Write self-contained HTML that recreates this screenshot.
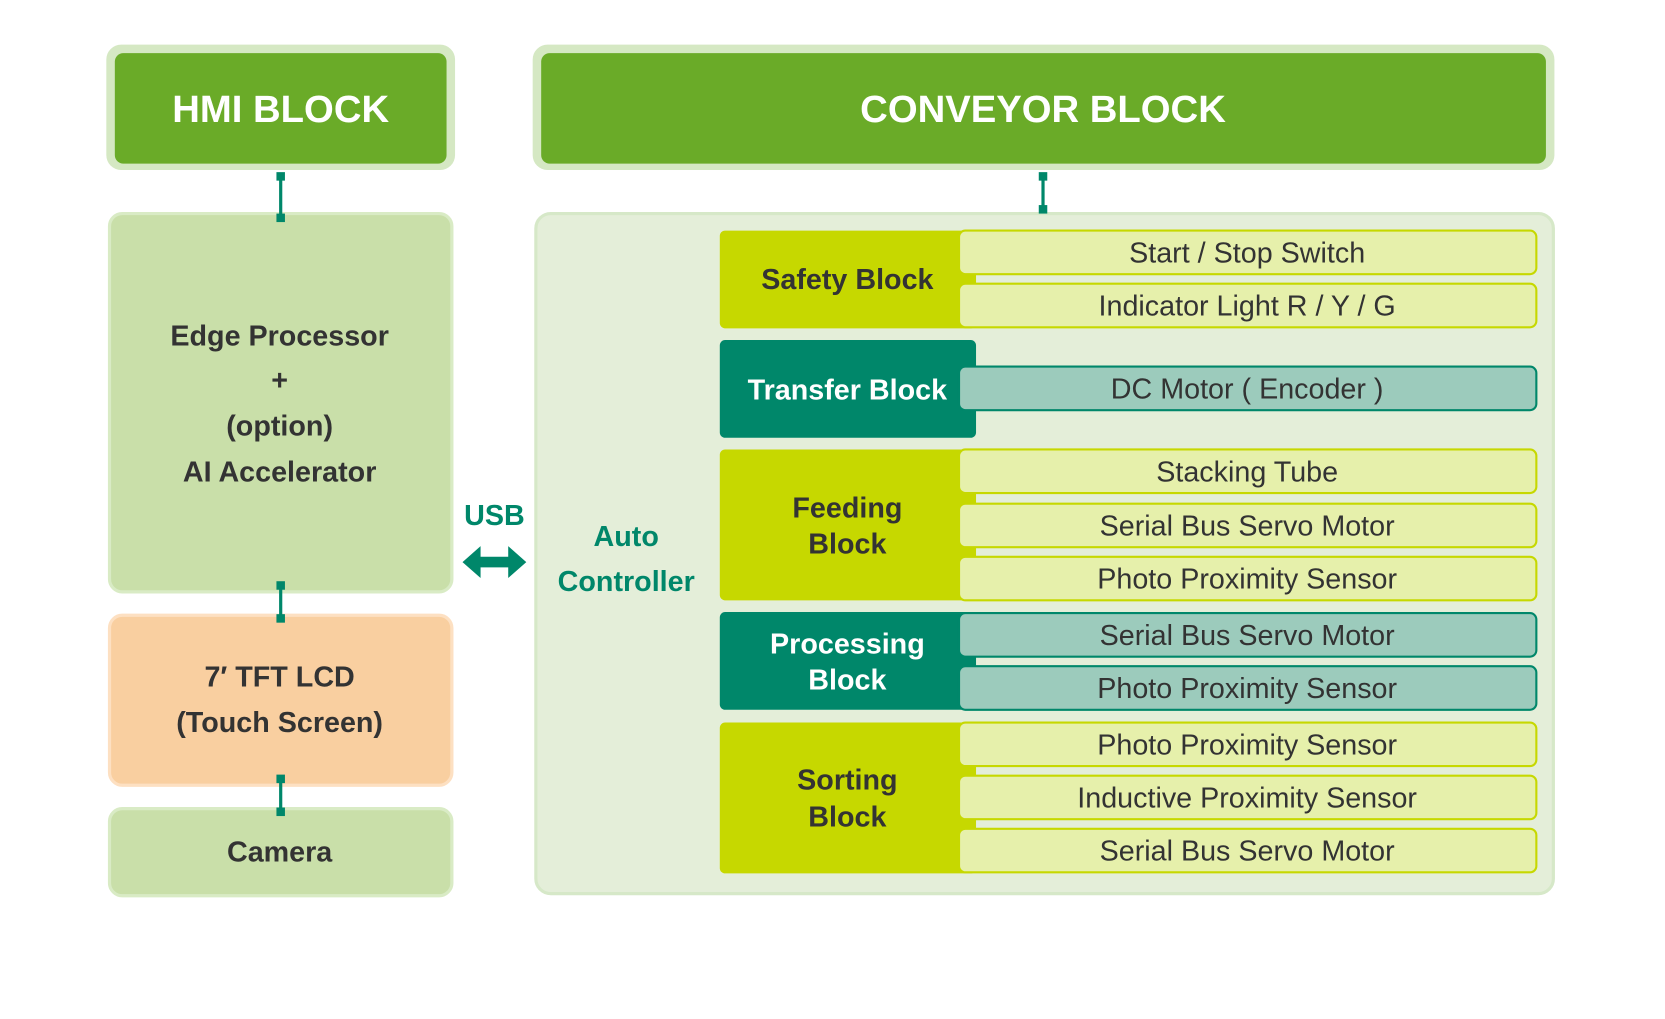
<!DOCTYPE html>
<html><head><meta charset="utf-8"><style>
html,body{margin:0;padding:0;background:#fff;width:1665px;height:1019px;overflow:hidden}
text{font-family:"Liberation Sans",sans-serif}
</style></head><body>
<svg width="1665" height="1019" viewBox="0 0 1566 959" preserveAspectRatio="none" xmlns="http://www.w3.org/2000/svg">
<!-- headers -->
<rect x="100" y="42" width="328" height="118" rx="14" fill="#d5e8c3"/>
<rect x="108" y="50" width="312" height="104" rx="8" fill="#6aab28"/>
<text x="264" y="115" text-anchor="middle" font-size="36" font-weight="bold" fill="#fff">HMI BLOCK</text>
<rect x="501" y="42" width="961" height="118" rx="14" fill="#d5e8c3"/>
<rect x="509" y="50" width="945" height="104" rx="8" fill="#6aab28"/>
<text x="981" y="115" text-anchor="middle" font-size="36" font-weight="bold" fill="#fff">CONVEYOR BLOCK</text>
<!-- left boxes -->
<rect x="103" y="201" width="322" height="356" rx="12" fill="#c9dfa9" stroke="#d9ebc5" stroke-width="3"/>
<g font-size="27" font-weight="bold" fill="#333" text-anchor="middle">
<text x="263" y="325">Edge Processor</text>
<text x="263" y="367">+</text>
<text x="263" y="410">(option)</text>
<text x="263" y="453">AI Accelerator</text>
</g>
<rect x="103" y="579" width="322" height="160" rx="12" fill="#f9cfa0" stroke="#fde0c2" stroke-width="3"/>
<g font-size="27" font-weight="bold" fill="#333" text-anchor="middle">
<text x="263" y="646">7′ TFT LCD</text>
<text x="263" y="689">(Touch Screen)</text>
</g>
<rect x="103" y="761" width="322" height="82" rx="12" fill="#c9dfa9" stroke="#d9ebc5" stroke-width="3"/>
<text x="263" y="811" text-anchor="middle" font-size="27" font-weight="bold" fill="#333">Camera</text>
<!-- USB -->
<text x="465" y="494" text-anchor="middle" font-size="27" font-weight="bold" fill="#00876a">USB</text>
<path d="M435,529 L452,514 L452,524 L478,524 L478,514 L495,529 L478,544 L478,534 L452,534 L452,544 Z" fill="#00876a"/>
<!-- conveyor area -->
<rect x="504" y="201" width="957" height="640" rx="14" fill="#e4eed9" stroke="#d6e8c8" stroke-width="3"/>
<g font-size="27" font-weight="bold" fill="#00876a" text-anchor="middle">
<text x="589" y="514">Auto</text>
<text x="589" y="556">Controller</text>
</g>
<!-- connectors -->
<g stroke="#00876a" stroke-width="3" fill="#00876a">
<line x1="264" y1="165" x2="264" y2="206"/><rect x="260" y="162" width="8" height="8" stroke="none"/><rect x="260" y="201" width="8" height="8" stroke="none"/>
<line x1="981" y1="165" x2="981" y2="198"/><rect x="977" y="162" width="8" height="8" stroke="none"/><rect x="977" y="193" width="8" height="8" stroke="none"/>
<line x1="264" y1="550" x2="264" y2="585"/><rect x="260" y="547" width="8" height="8" stroke="none"/><rect x="260" y="578" width="8" height="8" stroke="none"/>
<line x1="264" y1="732" x2="264" y2="767"/><rect x="260" y="729" width="8" height="8" stroke="none"/><rect x="260" y="760" width="8" height="8" stroke="none"/>
</g>
<!-- blocks -->
<g>
<rect x="677" y="217" width="241" height="92" rx="5" fill="#c6d800"/>
<rect x="677" y="320" width="241" height="92" rx="5" fill="#00876a"/>
<rect x="677" y="423" width="241" height="142" rx="5" fill="#c6d800"/>
<rect x="677" y="576" width="241" height="92" rx="5" fill="#00876a"/>
<rect x="677" y="680" width="241" height="142" rx="5" fill="#c6d800"/>
</g>
<g font-size="27" font-weight="bold" text-anchor="middle">
<text x="797" y="272" fill="#333">Safety Block</text>
<text x="797" y="376" fill="#fff">Transfer Block</text>
<text x="797" y="487" fill="#333">Feeding</text><text x="797" y="521" fill="#333">Block</text>
<text x="797" y="615" fill="#fff">Processing</text><text x="797" y="649" fill="#fff">Block</text>
<text x="797" y="743" fill="#333">Sorting</text><text x="797" y="778" fill="#333">Block</text>
</g>
<g stroke-width="2">
<rect x="902" y="217" width="543" height="41" rx="6" fill="#e6f0ab" stroke="#c6d800"/>
<rect x="902" y="267" width="543" height="41" rx="6" fill="#e6f0ab" stroke="#c6d800"/>
<rect x="902" y="345" width="543" height="41" rx="6" fill="#9ccbbc" stroke="#00876a"/>
<rect x="902" y="423" width="543" height="41" rx="6" fill="#e6f0ab" stroke="#c6d800"/>
<rect x="902" y="474" width="543" height="41" rx="6" fill="#e6f0ab" stroke="#c6d800"/>
<rect x="902" y="524" width="543" height="41" rx="6" fill="#e6f0ab" stroke="#c6d800"/>
<rect x="902" y="577" width="543" height="41" rx="6" fill="#9ccbbc" stroke="#00876a"/>
<rect x="902" y="627" width="543" height="41" rx="6" fill="#9ccbbc" stroke="#00876a"/>
<rect x="902" y="680" width="543" height="41" rx="6" fill="#e6f0ab" stroke="#c6d800"/>
<rect x="902" y="730" width="543" height="41" rx="6" fill="#e6f0ab" stroke="#c6d800"/>
<rect x="902" y="780" width="543" height="41" rx="6" fill="#e6f0ab" stroke="#c6d800"/>
</g>
<g font-size="27" fill="#333" text-anchor="middle">
<text x="1173" y="247">Start / Stop Switch</text>
<text x="1173" y="297">Indicator Light R / Y / G</text>
<text x="1173" y="375">DC Motor ( Encoder )</text>
<text x="1173" y="453">Stacking Tube</text>
<text x="1173" y="504">Serial Bus Servo Motor</text>
<text x="1173" y="554">Photo Proximity Sensor</text>
<text x="1173" y="607">Serial Bus Servo Motor</text>
<text x="1173" y="657">Photo Proximity Sensor</text>
<text x="1173" y="710">Photo Proximity Sensor</text>
<text x="1173" y="760">Inductive Proximity Sensor</text>
<text x="1173" y="810">Serial Bus Servo Motor</text>
</g>
</svg>
</body></html>
